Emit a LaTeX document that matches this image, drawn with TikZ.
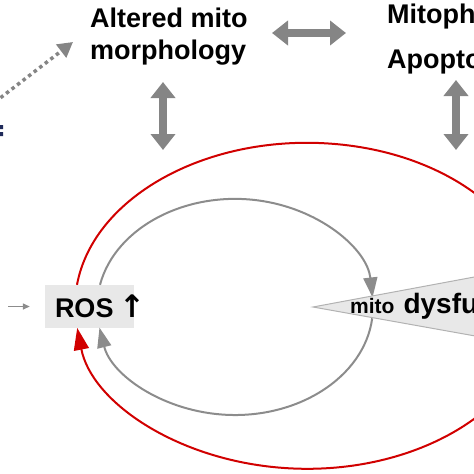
\documentclass[tikz,border=0pt]{standalone}
\usepackage{fontspec}
\setmainfont{Liberation Sans}
\newfontfamily\arrowfont{DejaVu Sans}
\usetikzlibrary{arrows.meta}
\definecolor{fatgray}{HTML}{858585}
\definecolor{loopgray}{HTML}{8C8C8C}
\definecolor{loopred}{HTML}{D10000}
\definecolor{boxgray}{HTML}{E8E8E8}
\definecolor{navytext}{HTML}{1F2A5A}
\begin{document}
\begin{tikzpicture}[x=1pt,y=-1pt,
  lbl/.style={font=\bfseries\fontsize{27}{32}\selectfont, inner sep=0pt, align=left},
  fat/.style={line width=8pt, fatgray,
    {Triangle[length=16pt,width=24pt]}-{Triangle[length=16pt,width=24pt]}},
  loopline/.style={line width=2pt, -{Triangle[length=20pt,width=14pt]}}]
  \useasboundingbox (0,0) rectangle (474,474);
  \clip (0,0) rectangle (474,474);

  % labels
  \node[lbl, anchor=base west] (morph) at (90,59) {Altered mito\\morphology};
  \node[lbl, anchor=base west] (mitoph) at (387,23) {Mitoph};
  \node[lbl, anchor=base west] (apopt) at (387,68) {Apopto};
  \node[lbl, fill=boxgray, minimum height=43pt] (ros) at (89.5,306.5)
    {\makebox[89pt][l]{\hspace{10pt}ROS\hspace{6pt}{\arrowfont\bfseries\fontsize{31}{31}\selectfont ↑}}};

  % big gray arrows
  \coordinate (mvTop) at (163,82);  \coordinate (mvBot) at (163,150);
  \coordinate (hL) at (272,33);     \coordinate (hR) at (346,33);
  \coordinate (avTop) at (456,80);  \coordinate (avBot) at (456,150);
  \draw[fat] (mvTop) -- (mvBot);
  \draw[fat] (hL) -- (hR);
  \draw[fat] (avTop) -- (avBot);

  % dotted arrow from the left
  \coordinate (dotStart) at (-5,102);
  \coordinate (dotEnd) at (73,42);
  \draw[fatgray, line width=3.5pt, dash pattern=on 3.5pt off 3.5pt,
    -{Triangle[length=15pt,width=16pt]}] (dotStart) -- (dotEnd);
  \fill[navytext] (0,125) rectangle (3,129) (0,132) rectangle (3,136);

  % small input arrow
  \coordinate (rosIn) at (8,306.5);
  \draw[loopgray, line width=1.4pt, -{Triangle[length=7pt,width=6pt]}, shorten >=15pt]
    (rosIn) -- (ros.west);

  % loops
  \draw[loopred, loopline, -{Triangle[length=22pt,width=15pt]}]
    ([xshift=-12.5pt]ros.north) arc[start angle=187.4, end angle=532.2, x radius=232, y radius=163];
  \draw[loopgray, loopline]
    ([xshift=10.5pt]ros.north) arc[start angle=191.8, end angle=355, x radius=138, y radius=108];
  \coordinate (grayOut) at (372.2,318.3);
  \draw[loopgray, loopline]
    (grayOut) arc[start angle=6, end angle=169, x radius=138, y radius=108];

  % mito dysfunction wedge
  \coordinate (dysTip) at (313,307);
  \draw[fill=boxgray, draw=gray!60, line width=1pt] (dysTip) -- (520,268.5) -- (520,344) -- cycle;
  \node[inner sep=0pt, anchor=base west, font=\bfseries] (dys) at (350,313)
    {\fontsize{21}{21}\selectfont mito\hspace{9pt}\fontsize{28}{28}\selectfont dysfu};
\end{tikzpicture}
\end{document}
